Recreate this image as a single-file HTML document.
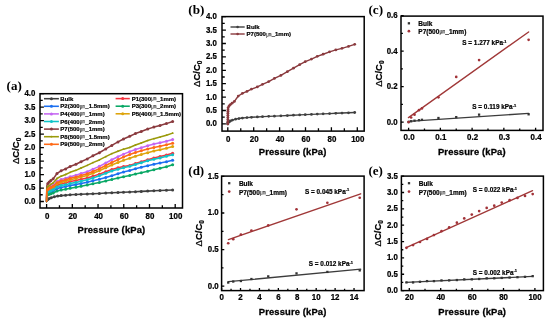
<!DOCTYPE html>
<html lang="en">
<head>
<meta charset="utf-8">
<title>Capacitance change versus pressure</title>
<style>
html,body{margin:0;padding:0;background:#fff;}
body{width:550px;height:323px;overflow:hidden;}
svg{display:block;}
</style>
</head>
<body>
<svg width="550" height="323" viewBox="0 0 550 323">
<rect width="550" height="323" fill="#fff"/>
<polyline points="46.6,201.5 46.66,200.69 46.79,200.02 47.89,199.48 49.17,198.59 51.23,197.67 54.32,196.76 57.66,196.11 61.13,195.62 65.63,195.17 70.13,194.84 75.92,194.49 81.06,194.22 87.24,193.9 92.9,193.68 99.33,193.41 105.76,193.09 111.8,192.74 117.97,192.47 123.5,192.2 129.68,191.93 135.46,191.66 141.25,191.39 147.68,191.12 153.85,190.85 160.03,190.59 166.46,190.32 172.63,190.05" fill="none" stroke="#3f3f3f" stroke-width="1.55" stroke-linejoin="round" stroke-linecap="round"/>
<g fill="#3f3f3f"><circle cx="47.89" cy="199.48" r="1.5"/><circle cx="49.17" cy="198.59" r="1.5"/><circle cx="51.23" cy="197.67" r="1.5"/><circle cx="54.32" cy="196.76" r="1.5"/><circle cx="57.66" cy="196.11" r="1.5"/><circle cx="61.13" cy="195.62" r="1.5"/><circle cx="65.63" cy="195.17" r="1.5"/><circle cx="70.13" cy="194.84" r="1.5"/><circle cx="75.92" cy="194.49" r="1.5"/><circle cx="81.06" cy="194.22" r="1.5"/><circle cx="87.24" cy="193.9" r="1.5"/><circle cx="92.9" cy="193.68" r="1.5"/><circle cx="99.33" cy="193.41" r="1.5"/><circle cx="105.76" cy="193.09" r="1.5"/><circle cx="111.8" cy="192.74" r="1.5"/><circle cx="117.97" cy="192.47" r="1.5"/><circle cx="123.5" cy="192.2" r="1.5"/><circle cx="129.68" cy="191.93" r="1.5"/><circle cx="135.46" cy="191.66" r="1.5"/><circle cx="141.25" cy="191.39" r="1.5"/><circle cx="147.68" cy="191.12" r="1.5"/><circle cx="153.85" cy="190.85" r="1.5"/><circle cx="160.03" cy="190.59" r="1.5"/><circle cx="166.46" cy="190.32" r="1.5"/><circle cx="172.63" cy="190.05" r="1.5"/></g>
<polyline points="46.6,201.5 46.63,200.25 46.65,199 46.68,197.75 46.7,196.5 46.73,195.25 46.77,194.15 46.82,193.22 46.99,191.97 47.89,191.03 49.17,190.25 50.84,189.39 53.16,188.37 57.02,185.24 61.13,183.79 65.63,182.85 70.13,181.61 75.92,180.59 81.06,179.35 87.24,178.03 92.9,176.17 99.33,174.13 105.76,171.67 111.8,169.43 117.97,167.83 123.5,166.53 129.68,165.46 135.46,163.5 141.25,161.72 147.68,159.67 153.85,157.95 160.03,156.57 166.46,154.98 172.63,153.23" fill="none" stroke="#f5333f" stroke-width="1.55" stroke-linejoin="round" stroke-linecap="round"/>
<g fill="#f5333f"><circle cx="47.89" cy="191.03" r="1.5"/><circle cx="49.17" cy="190.25" r="1.5"/><circle cx="50.84" cy="189.39" r="1.5"/><circle cx="53.16" cy="188.37" r="1.5"/><circle cx="57.02" cy="185.24" r="1.5"/><circle cx="61.13" cy="183.79" r="1.5"/><circle cx="65.63" cy="182.85" r="1.5"/><circle cx="70.13" cy="181.61" r="1.5"/><circle cx="75.92" cy="180.59" r="1.5"/><circle cx="81.06" cy="179.35" r="1.5"/><circle cx="87.24" cy="178.03" r="1.5"/><circle cx="92.9" cy="176.17" r="1.5"/><circle cx="99.33" cy="174.13" r="1.5"/><circle cx="105.76" cy="171.67" r="1.5"/><circle cx="111.8" cy="169.43" r="1.5"/><circle cx="117.97" cy="167.83" r="1.5"/><circle cx="123.5" cy="166.53" r="1.5"/><circle cx="129.68" cy="165.46" r="1.5"/><circle cx="135.46" cy="163.5" r="1.5"/><circle cx="141.25" cy="161.72" r="1.5"/><circle cx="147.68" cy="159.67" r="1.5"/><circle cx="153.85" cy="157.95" r="1.5"/><circle cx="160.03" cy="156.57" r="1.5"/><circle cx="166.46" cy="154.98" r="1.5"/><circle cx="172.63" cy="153.23" r="1.5"/></g>
<polyline points="46.6,201.5 46.63,200.51 46.65,199.52 46.68,198.52 46.7,197.53 46.73,196.54 46.77,195.67 46.82,194.93 46.99,193.94 47.89,193.19 49.17,192.57 50.84,191.89 53.16,191.09 57.02,188.61 61.13,187.4 65.63,186.59 70.13,185.53 75.92,184.61 81.06,183.52 87.24,182.32 92.9,180.85 99.33,179.31 105.76,177.45 111.8,175.67 117.97,173.73 123.5,172.04 129.68,170.42 135.46,168.75 141.25,167.31 147.68,165.66 153.85,164.28 160.03,163.11 166.46,161.76 172.63,160.28" fill="none" stroke="#1b6ff0" stroke-width="1.55" stroke-linejoin="round" stroke-linecap="round"/>
<g fill="#1b6ff0"><circle cx="47.89" cy="193.19" r="1.5"/><circle cx="49.17" cy="192.57" r="1.5"/><circle cx="50.84" cy="191.89" r="1.5"/><circle cx="53.16" cy="191.09" r="1.5"/><circle cx="57.02" cy="188.61" r="1.5"/><circle cx="61.13" cy="187.4" r="1.5"/><circle cx="65.63" cy="186.59" r="1.5"/><circle cx="70.13" cy="185.53" r="1.5"/><circle cx="75.92" cy="184.61" r="1.5"/><circle cx="81.06" cy="183.52" r="1.5"/><circle cx="87.24" cy="182.32" r="1.5"/><circle cx="92.9" cy="180.85" r="1.5"/><circle cx="99.33" cy="179.31" r="1.5"/><circle cx="105.76" cy="177.45" r="1.5"/><circle cx="111.8" cy="175.67" r="1.5"/><circle cx="117.97" cy="173.73" r="1.5"/><circle cx="123.5" cy="172.04" r="1.5"/><circle cx="129.68" cy="170.42" r="1.5"/><circle cx="135.46" cy="168.75" r="1.5"/><circle cx="141.25" cy="167.31" r="1.5"/><circle cx="147.68" cy="165.66" r="1.5"/><circle cx="153.85" cy="164.28" r="1.5"/><circle cx="160.03" cy="163.11" r="1.5"/><circle cx="166.46" cy="161.76" r="1.5"/><circle cx="172.63" cy="160.28" r="1.5"/></g>
<polyline points="46.6,201.5 46.63,200.69 46.65,199.88 46.68,199.07 46.7,198.27 46.73,197.46 46.77,196.75 46.82,196.14 46.99,195.34 47.89,194.73 49.17,194.22 50.84,193.67 53.16,193.01 57.02,190.99 61.13,189.92 65.63,189.14 70.13,188.15 75.92,187.22 81.06,186.14 87.24,184.92 92.9,183.68 99.33,182.48 105.76,181 111.8,179.61 117.97,178.05 123.5,176.71 129.68,175.43 135.46,173.95 141.25,172.64 147.68,171.13 153.85,169.82 160.03,168.33 166.46,166.65 172.63,164.84" fill="none" stroke="#0aa866" stroke-width="1.55" stroke-linejoin="round" stroke-linecap="round"/>
<g fill="#0aa866"><circle cx="47.89" cy="194.73" r="1.5"/><circle cx="49.17" cy="194.22" r="1.5"/><circle cx="50.84" cy="193.67" r="1.5"/><circle cx="53.16" cy="193.01" r="1.5"/><circle cx="57.02" cy="190.99" r="1.5"/><circle cx="61.13" cy="189.92" r="1.5"/><circle cx="65.63" cy="189.14" r="1.5"/><circle cx="70.13" cy="188.15" r="1.5"/><circle cx="75.92" cy="187.22" r="1.5"/><circle cx="81.06" cy="186.14" r="1.5"/><circle cx="87.24" cy="184.92" r="1.5"/><circle cx="92.9" cy="183.68" r="1.5"/><circle cx="99.33" cy="182.48" r="1.5"/><circle cx="105.76" cy="181" r="1.5"/><circle cx="111.8" cy="179.61" r="1.5"/><circle cx="117.97" cy="178.05" r="1.5"/><circle cx="123.5" cy="176.71" r="1.5"/><circle cx="129.68" cy="175.43" r="1.5"/><circle cx="135.46" cy="173.95" r="1.5"/><circle cx="141.25" cy="172.64" r="1.5"/><circle cx="147.68" cy="171.13" r="1.5"/><circle cx="153.85" cy="169.82" r="1.5"/><circle cx="160.03" cy="168.33" r="1.5"/><circle cx="166.46" cy="166.65" r="1.5"/><circle cx="172.63" cy="164.84" r="1.5"/></g>
<polyline points="46.6,201.5 46.63,199.96 46.65,198.42 46.68,196.88 46.7,195.33 46.73,193.79 46.77,192.44 46.82,191.29 46.99,189.75 47.89,188.59 49.17,187.63 50.84,186.57 53.16,185.31 57.02,181.46 61.13,179.59 65.63,178.31 70.13,176.66 75.92,175.24 81.06,173.53 87.24,171.67 92.9,169.14 99.33,166.34 105.76,162.97 111.8,159.79 117.97,156.77 123.5,154.15 129.68,151.65 135.46,149.44 141.25,147.66 147.68,145.66 153.85,144.07 160.03,142.72 166.46,141.16 172.63,139.39" fill="none" stroke="#c566f2" stroke-width="1.55" stroke-linejoin="round" stroke-linecap="round"/>
<g fill="#c566f2"><circle cx="47.89" cy="188.59" r="1.5"/><circle cx="49.17" cy="187.63" r="1.5"/><circle cx="50.84" cy="186.57" r="1.5"/><circle cx="53.16" cy="185.31" r="1.5"/><circle cx="57.02" cy="181.46" r="1.5"/><circle cx="61.13" cy="179.59" r="1.5"/><circle cx="65.63" cy="178.31" r="1.5"/><circle cx="70.13" cy="176.66" r="1.5"/><circle cx="75.92" cy="175.24" r="1.5"/><circle cx="81.06" cy="173.53" r="1.5"/><circle cx="87.24" cy="171.67" r="1.5"/><circle cx="92.9" cy="169.14" r="1.5"/><circle cx="99.33" cy="166.34" r="1.5"/><circle cx="105.76" cy="162.97" r="1.5"/><circle cx="111.8" cy="159.79" r="1.5"/><circle cx="117.97" cy="156.77" r="1.5"/><circle cx="123.5" cy="154.15" r="1.5"/><circle cx="129.68" cy="151.65" r="1.5"/><circle cx="135.46" cy="149.44" r="1.5"/><circle cx="141.25" cy="147.66" r="1.5"/><circle cx="147.68" cy="145.66" r="1.5"/><circle cx="153.85" cy="144.07" r="1.5"/><circle cx="160.03" cy="142.72" r="1.5"/><circle cx="166.46" cy="141.16" r="1.5"/><circle cx="172.63" cy="139.39" r="1.5"/></g>
<polyline points="46.6,201.5 46.63,200.14 46.65,198.78 46.68,197.43 46.7,196.07 46.73,194.71 46.77,193.52 46.82,192.5 46.99,191.14 47.89,190.12 49.17,189.28 50.84,188.34 53.16,187.24 57.02,183.84 61.13,182.22 65.63,181.13 70.13,179.71 75.92,178.51 81.06,177.06 87.24,175.49 92.9,173.28 99.33,170.8 105.76,167.82 111.8,165.03 117.97,162.52 123.5,160.37 129.68,158.35 135.46,156.29 141.25,154.58 147.68,152.63 153.85,151.05 160.03,149.71 166.46,148.16 172.63,146.43" fill="none" stroke="#dea40c" stroke-width="1.55" stroke-linejoin="round" stroke-linecap="round"/>
<g fill="#dea40c"><circle cx="47.89" cy="190.12" r="1.5"/><circle cx="49.17" cy="189.28" r="1.5"/><circle cx="50.84" cy="188.34" r="1.5"/><circle cx="53.16" cy="187.24" r="1.5"/><circle cx="57.02" cy="183.84" r="1.5"/><circle cx="61.13" cy="182.22" r="1.5"/><circle cx="65.63" cy="181.13" r="1.5"/><circle cx="70.13" cy="179.71" r="1.5"/><circle cx="75.92" cy="178.51" r="1.5"/><circle cx="81.06" cy="177.06" r="1.5"/><circle cx="87.24" cy="175.49" r="1.5"/><circle cx="92.9" cy="173.28" r="1.5"/><circle cx="99.33" cy="170.8" r="1.5"/><circle cx="105.76" cy="167.82" r="1.5"/><circle cx="111.8" cy="165.03" r="1.5"/><circle cx="117.97" cy="162.52" r="1.5"/><circle cx="123.5" cy="160.37" r="1.5"/><circle cx="129.68" cy="158.35" r="1.5"/><circle cx="135.46" cy="156.29" r="1.5"/><circle cx="141.25" cy="154.58" r="1.5"/><circle cx="147.68" cy="152.63" r="1.5"/><circle cx="153.85" cy="151.05" r="1.5"/><circle cx="160.03" cy="149.71" r="1.5"/><circle cx="166.46" cy="148.16" r="1.5"/><circle cx="172.63" cy="146.43" r="1.5"/></g>
<polyline points="46.6,201.5 46.63,200.38 46.65,199.26 46.68,198.14 46.7,197.02 46.73,195.89 46.77,194.91 46.82,194.07 46.99,192.95 47.89,192.11 49.17,191.41 50.84,190.64 53.16,189.73 57.02,186.93 61.13,185.56 65.63,184.63 70.13,183.43 75.92,182.38 81.06,181.13 87.24,179.77 92.9,177.9 99.33,175.82 105.76,173.32 111.8,171.02 117.97,169.19 123.5,167.65 129.68,166.27 135.46,164.39 141.25,162.72 147.68,160.82 153.85,159.22 160.03,157.88 166.46,156.36 172.63,154.68" fill="none" stroke="#10c4c8" stroke-width="1.55" stroke-linejoin="round" stroke-linecap="round"/>
<g fill="#10c4c8"><circle cx="47.89" cy="192.11" r="1.5"/><circle cx="49.17" cy="191.41" r="1.5"/><circle cx="50.84" cy="190.64" r="1.5"/><circle cx="53.16" cy="189.73" r="1.5"/><circle cx="57.02" cy="186.93" r="1.5"/><circle cx="61.13" cy="185.56" r="1.5"/><circle cx="65.63" cy="184.63" r="1.5"/><circle cx="70.13" cy="183.43" r="1.5"/><circle cx="75.92" cy="182.38" r="1.5"/><circle cx="81.06" cy="181.13" r="1.5"/><circle cx="87.24" cy="179.77" r="1.5"/><circle cx="92.9" cy="177.9" r="1.5"/><circle cx="99.33" cy="175.82" r="1.5"/><circle cx="105.76" cy="173.32" r="1.5"/><circle cx="111.8" cy="171.02" r="1.5"/><circle cx="117.97" cy="169.19" r="1.5"/><circle cx="123.5" cy="167.65" r="1.5"/><circle cx="129.68" cy="166.27" r="1.5"/><circle cx="135.46" cy="164.39" r="1.5"/><circle cx="141.25" cy="162.72" r="1.5"/><circle cx="147.68" cy="160.82" r="1.5"/><circle cx="153.85" cy="159.22" r="1.5"/><circle cx="160.03" cy="157.88" r="1.5"/><circle cx="166.46" cy="156.36" r="1.5"/><circle cx="172.63" cy="154.68" r="1.5"/></g>
<polyline points="46.6,201.5 46.63,199.34 46.65,197.19 46.68,195.03 46.7,192.88 46.73,190.72 46.77,188.83 46.82,187.22 46.99,185.06 47.89,183.44 49.17,182.1 50.84,180.61 53.16,178.86 57.02,173.47 61.13,170.78 65.63,168.89 70.13,166.47 75.92,164.31 81.06,161.75 87.24,158.92 92.9,155.82 99.33,152.72 105.76,148.95 111.8,145.44 117.97,141.94 123.5,138.98 129.68,136.28 135.46,133.59 141.25,131.43 147.68,129 153.85,127.12 160.03,125.5 166.46,123.61 172.63,121.46" fill="none" stroke="#8a3a3e" stroke-width="1.55" stroke-linejoin="round" stroke-linecap="round"/>
<g fill="#8a3a3e"><circle cx="47.89" cy="183.44" r="1.5"/><circle cx="49.17" cy="182.1" r="1.5"/><circle cx="50.84" cy="180.61" r="1.5"/><circle cx="53.16" cy="178.86" r="1.5"/><circle cx="57.02" cy="173.47" r="1.5"/><circle cx="61.13" cy="170.78" r="1.5"/><circle cx="65.63" cy="168.89" r="1.5"/><circle cx="70.13" cy="166.47" r="1.5"/><circle cx="75.92" cy="164.31" r="1.5"/><circle cx="81.06" cy="161.75" r="1.5"/><circle cx="87.24" cy="158.92" r="1.5"/><circle cx="92.9" cy="155.82" r="1.5"/><circle cx="99.33" cy="152.72" r="1.5"/><circle cx="105.76" cy="148.95" r="1.5"/><circle cx="111.8" cy="145.44" r="1.5"/><circle cx="117.97" cy="141.94" r="1.5"/><circle cx="123.5" cy="138.98" r="1.5"/><circle cx="129.68" cy="136.28" r="1.5"/><circle cx="135.46" cy="133.59" r="1.5"/><circle cx="141.25" cy="131.43" r="1.5"/><circle cx="147.68" cy="129" r="1.5"/><circle cx="153.85" cy="127.12" r="1.5"/><circle cx="160.03" cy="125.5" r="1.5"/><circle cx="166.46" cy="123.61" r="1.5"/><circle cx="172.63" cy="121.46" r="1.5"/></g>
<polyline points="46.6,201.5 46.63,199.73 46.65,197.96 46.68,196.2 46.7,194.43 46.73,192.66 46.77,191.11 46.82,189.79 46.99,188.02 47.89,186.69 49.17,185.59 50.84,184.37 53.16,182.94 57.02,178.52 61.13,176.2 65.63,174.5 70.13,172.34 75.92,170.34 81.06,168 87.24,165.36 92.9,162.63 99.33,159.92 105.76,156.63 111.8,153.64 117.97,151.17 123.5,149.14 129.68,147.45 135.46,145 141.25,142.91 147.68,140.54 153.85,138.63 160.03,137.04 166.46,135.21 172.63,133.14" fill="none" stroke="#9a9a0a" stroke-width="1.55" stroke-linejoin="round" stroke-linecap="round"/>
<g fill="#9a9a0a"><circle cx="47.89" cy="186.69" r="0.9"/><circle cx="49.17" cy="185.59" r="0.9"/><circle cx="50.84" cy="184.37" r="0.9"/><circle cx="53.16" cy="182.94" r="0.9"/><circle cx="57.02" cy="178.52" r="0.9"/><circle cx="61.13" cy="176.2" r="0.9"/><circle cx="65.63" cy="174.5" r="0.9"/><circle cx="70.13" cy="172.34" r="0.9"/><circle cx="75.92" cy="170.34" r="0.9"/><circle cx="81.06" cy="168" r="0.9"/><circle cx="87.24" cy="165.36" r="0.9"/><circle cx="92.9" cy="162.63" r="0.9"/><circle cx="99.33" cy="159.92" r="0.9"/><circle cx="105.76" cy="156.63" r="0.9"/><circle cx="111.8" cy="153.64" r="0.9"/><circle cx="117.97" cy="151.17" r="0.9"/><circle cx="123.5" cy="149.14" r="0.9"/><circle cx="129.68" cy="147.45" r="0.9"/><circle cx="135.46" cy="145" r="0.9"/><circle cx="141.25" cy="142.91" r="0.9"/><circle cx="147.68" cy="140.54" r="0.9"/><circle cx="153.85" cy="138.63" r="0.9"/><circle cx="160.03" cy="137.04" r="0.9"/><circle cx="166.46" cy="135.21" r="0.9"/><circle cx="172.63" cy="133.14" r="0.9"/></g>
<polyline points="46.6,201.5 46.63,200.06 46.65,198.61 46.68,197.17 46.7,195.72 46.73,194.28 46.77,193.01 46.82,191.93 46.99,190.49 47.89,189.4 49.17,188.5 50.84,187.51 53.16,186.33 57.02,182.72 61.13,180.99 65.63,179.82 70.13,178.31 75.92,177.02 81.06,175.47 87.24,173.79 92.9,171.42 99.33,168.76 105.76,165.56 111.8,162.53 117.97,159.6 123.5,157.05 129.68,154.59 135.46,152.51 141.25,150.85 147.68,148.97 153.85,147.49 160.03,146.25 166.46,144.8 172.63,143.15" fill="none" stroke="#ff6a17" stroke-width="1.55" stroke-linejoin="round" stroke-linecap="round"/>
<g fill="#ff6a17"><circle cx="47.89" cy="189.4" r="1.5"/><circle cx="49.17" cy="188.5" r="1.5"/><circle cx="50.84" cy="187.51" r="1.5"/><circle cx="53.16" cy="186.33" r="1.5"/><circle cx="57.02" cy="182.72" r="1.5"/><circle cx="61.13" cy="180.99" r="1.5"/><circle cx="65.63" cy="179.82" r="1.5"/><circle cx="70.13" cy="178.31" r="1.5"/><circle cx="75.92" cy="177.02" r="1.5"/><circle cx="81.06" cy="175.47" r="1.5"/><circle cx="87.24" cy="173.79" r="1.5"/><circle cx="92.9" cy="171.42" r="1.5"/><circle cx="99.33" cy="168.76" r="1.5"/><circle cx="105.76" cy="165.56" r="1.5"/><circle cx="111.8" cy="162.53" r="1.5"/><circle cx="117.97" cy="159.6" r="1.5"/><circle cx="123.5" cy="157.05" r="1.5"/><circle cx="129.68" cy="154.59" r="1.5"/><circle cx="135.46" cy="152.51" r="1.5"/><circle cx="141.25" cy="150.85" r="1.5"/><circle cx="147.68" cy="148.97" r="1.5"/><circle cx="153.85" cy="147.49" r="1.5"/><circle cx="160.03" cy="146.25" r="1.5"/><circle cx="166.46" cy="144.8" r="1.5"/><circle cx="172.63" cy="143.15" r="1.5"/></g>
<rect x="40" y="93.7" width="142.5" height="114.3" fill="none" stroke="#000" stroke-width="1.5"/>
<path d="M46.6 208v-3.9M72.32 208v-3.9M98.04 208v-3.9M123.76 208v-3.9M149.48 208v-3.9M175.2 208v-3.9M59.46 208v-2.75M85.18 208v-2.75M110.9 208v-2.75M136.62 208v-2.75M162.34 208v-2.75" stroke="#000" stroke-width="1.3" fill="none"/>
<g font-family='"Liberation Sans", "Noto Sans CJK KR", "NanumGothic", sans-serif' font-weight="700" font-size="8.8" text-anchor="middle" fill="#000" stroke="#000" stroke-width="0.25">
<text transform="translate(47.1 219.2) scale(0.9 1)">0</text>
<text transform="translate(72.82 219.2) scale(0.9 1)">20</text>
<text transform="translate(98.54 219.2) scale(0.9 1)">40</text>
<text transform="translate(124.26 219.2) scale(0.9 1)">60</text>
<text transform="translate(149.98 219.2) scale(0.9 1)">80</text>
<text transform="translate(175.7 219.2) scale(0.9 1)">100</text>
</g>
<path d="M40 201.5h3.9M40 188.03h3.9M40 174.55h3.9M40 161.07h3.9M40 147.6h3.9M40 134.12h3.9M40 120.65h3.9M40 107.17h3.9M40 93.7h3.9M40 194.76h2.75M40 181.29h2.75M40 167.81h2.75M40 154.34h2.75M40 140.86h2.75M40 127.39h2.75M40 113.91h2.75M40 100.44h2.75" stroke="#000" stroke-width="1.3" fill="none"/>
<g font-family='"Liberation Sans", "Noto Sans CJK KR", "NanumGothic", sans-serif' font-weight="700" font-size="8.9" text-anchor="end" fill="#000" stroke="#000" stroke-width="0.25">
<text transform="translate(35.4 203.95) scale(0.88 1)">0.0</text>
<text transform="translate(35.4 190.47) scale(0.88 1)">0.5</text>
<text transform="translate(35.4 177) scale(0.88 1)">1.0</text>
<text transform="translate(35.4 163.52) scale(0.88 1)">1.5</text>
<text transform="translate(35.4 150.05) scale(0.88 1)">2.0</text>
<text transform="translate(35.4 136.57) scale(0.88 1)">2.5</text>
<text transform="translate(35.4 123.1) scale(0.88 1)">3.0</text>
<text transform="translate(35.4 109.62) scale(0.88 1)">3.5</text>
<text transform="translate(35.4 96.15) scale(0.88 1)">4.0</text>
</g>
<text transform="translate(111.4 232.6) scale(1.0 1)" font-family='"Liberation Sans", "Noto Sans CJK KR", "NanumGothic", sans-serif' font-weight="700" font-size="9.4" text-anchor="middle" fill="#000" stroke="#000" stroke-width="0.3" letter-spacing="0.15">Pressure (kPa)</text>
<text transform="translate(18.61 150.9) rotate(-90) scale(0.97 1)" font-family='"Liberation Sans", "Noto Sans CJK KR", "NanumGothic", sans-serif' font-weight="700" font-size="9.8" text-anchor="middle" fill="#000" stroke="#000" stroke-width="0.2"><tspan font-weight="400">Δ</tspan>C/C<tspan font-size="6.66" dy="2">0</tspan></text>
<text x="6.6" y="90.4" font-family='"Liberation Serif", "Noto Serif CJK SC", serif' font-weight="700" font-size="13" fill="#000">(a)</text>
<path d="M44 98.7H58.9" stroke="#3f3f3f" stroke-width="1.55"/>
<circle cx="51.45" cy="98.7" r="1.5" fill="#3f3f3f"/>
<text x="60.3" y="100.85" font-family='"Liberation Sans", "Noto Sans CJK KR", "NanumGothic", sans-serif' font-weight="700" font-size="6.0" text-anchor="start" fill="#000" stroke="#000" stroke-width="0.2">Bulk</text>
<path d="M44 106.3H58.9" stroke="#1b6ff0" stroke-width="1.55"/>
<circle cx="51.45" cy="106.3" r="1.5" fill="#1b6ff0"/>
<text x="60.3" y="108.45" font-family='"Liberation Sans", "Noto Sans CJK KR", "NanumGothic", sans-serif' font-weight="700" font-size="6.0" text-anchor="start" fill="#000" stroke="#000" stroke-width="0.2">P2(300<tspan font-weight="400" stroke="none" font-size="0.86em" dx="0.2" dy="-0.6">㎛</tspan><tspan dx="0.3" dy="0.6">_1.5mm)</tspan></text>
<path d="M44 113.9H58.9" stroke="#c566f2" stroke-width="1.55"/>
<circle cx="51.45" cy="113.9" r="1.5" fill="#c566f2"/>
<text x="60.3" y="116.05" font-family='"Liberation Sans", "Noto Sans CJK KR", "NanumGothic", sans-serif' font-weight="700" font-size="6.0" text-anchor="start" fill="#000" stroke="#000" stroke-width="0.2">P4(400<tspan font-weight="400" stroke="none" font-size="0.86em" dx="0.2" dy="-0.6">㎛</tspan><tspan dx="0.3" dy="0.6">_1mm)</tspan></text>
<path d="M44 121.5H58.9" stroke="#10c4c8" stroke-width="1.55"/>
<circle cx="51.45" cy="121.5" r="1.5" fill="#10c4c8"/>
<text x="60.3" y="123.65" font-family='"Liberation Sans", "Noto Sans CJK KR", "NanumGothic", sans-serif' font-weight="700" font-size="6.0" text-anchor="start" fill="#000" stroke="#000" stroke-width="0.2">P6(400<tspan font-weight="400" stroke="none" font-size="0.86em" dx="0.2" dy="-0.6">㎛</tspan><tspan dx="0.3" dy="0.6">_2mm)</tspan></text>
<path d="M44 129.1H58.9" stroke="#8a3a3e" stroke-width="1.55"/>
<circle cx="51.45" cy="129.1" r="1.5" fill="#8a3a3e"/>
<text x="60.3" y="131.25" font-family='"Liberation Sans", "Noto Sans CJK KR", "NanumGothic", sans-serif' font-weight="700" font-size="6.0" text-anchor="start" fill="#000" stroke="#000" stroke-width="0.2">P7(500<tspan font-weight="400" stroke="none" font-size="0.86em" dx="0.2" dy="-0.6">㎛</tspan><tspan dx="0.3" dy="0.6">_1mm)</tspan></text>
<path d="M44 136.7H58.9" stroke="#9a9a0a" stroke-width="1.55"/>
<circle cx="51.45" cy="136.7" r="0.9" fill="#9a9a0a"/>
<text x="60.3" y="138.85" font-family='"Liberation Sans", "Noto Sans CJK KR", "NanumGothic", sans-serif' font-weight="700" font-size="6.0" text-anchor="start" fill="#000" stroke="#000" stroke-width="0.2">P8(500<tspan font-weight="400" stroke="none" font-size="0.86em" dx="0.2" dy="-0.6">㎛</tspan><tspan dx="0.3" dy="0.6">_1.5mm)</tspan></text>
<path d="M44 144.3H58.9" stroke="#ff6a17" stroke-width="1.55"/>
<circle cx="51.45" cy="144.3" r="1.5" fill="#ff6a17"/>
<text x="60.3" y="146.45" font-family='"Liberation Sans", "Noto Sans CJK KR", "NanumGothic", sans-serif' font-weight="700" font-size="6.0" text-anchor="start" fill="#000" stroke="#000" stroke-width="0.2">P9(500<tspan font-weight="400" stroke="none" font-size="0.86em" dx="0.2" dy="-0.6">㎛</tspan><tspan dx="0.3" dy="0.6">_2mm)</tspan></text>
<path d="M115.6 98.6H129.8" stroke="#f5333f" stroke-width="1.55"/>
<circle cx="122.7" cy="98.6" r="1.5" fill="#f5333f"/>
<text x="131.7" y="100.75" font-family='"Liberation Sans", "Noto Sans CJK KR", "NanumGothic", sans-serif' font-weight="700" font-size="6.0" text-anchor="start" fill="#000" stroke="#000" stroke-width="0.2">P1(300<tspan font-weight="400" stroke="none" font-size="0.86em" dx="0.2" dy="-0.6">㎛</tspan><tspan dx="0.3" dy="0.6">_1mm)</tspan></text>
<path d="M115.6 106.2H129.8" stroke="#0aa866" stroke-width="1.55"/>
<circle cx="122.7" cy="106.2" r="1.5" fill="#0aa866"/>
<text x="131.7" y="108.35" font-family='"Liberation Sans", "Noto Sans CJK KR", "NanumGothic", sans-serif' font-weight="700" font-size="6.0" text-anchor="start" fill="#000" stroke="#000" stroke-width="0.2">P3(300<tspan font-weight="400" stroke="none" font-size="0.86em" dx="0.2" dy="-0.6">㎛</tspan><tspan dx="0.3" dy="0.6">_2mm)</tspan></text>
<path d="M115.6 113.8H129.8" stroke="#dea40c" stroke-width="1.55"/>
<circle cx="122.7" cy="113.8" r="1.5" fill="#dea40c"/>
<text x="131.7" y="115.95" font-family='"Liberation Sans", "Noto Sans CJK KR", "NanumGothic", sans-serif' font-weight="700" font-size="6.0" text-anchor="start" fill="#000" stroke="#000" stroke-width="0.2">P5(400<tspan font-weight="400" stroke="none" font-size="0.86em" dx="0.2" dy="-0.6">㎛</tspan><tspan dx="0.3" dy="0.6">_1.5mm)</tspan></text>
<polyline points="227.8,123.9 227.86,123.1 227.99,122.43 229.09,121.89 230.39,121.01 232.46,120.09 235.57,119.18 238.94,118.54 242.43,118.06 246.97,117.6 251.5,117.28 257.33,116.93 262.51,116.66 268.72,116.34 274.42,116.13 280.89,115.86 287.37,115.54 293.46,115.19 299.67,114.92 305.24,114.65 311.46,114.39 317.28,114.12 323.11,113.85 329.59,113.58 335.8,113.31 342.02,113.05 348.49,112.78 354.71,112.51" fill="none" stroke="#3f3f3f" stroke-width="1.4" stroke-linejoin="round" stroke-linecap="round"/>
<g fill="#3f3f3f"><circle cx="227.8" cy="123.9" r="1.4"/><circle cx="227.86" cy="123.1" r="1.4"/><circle cx="227.99" cy="122.43" r="1.4"/><circle cx="229.09" cy="121.89" r="1.4"/><circle cx="230.39" cy="121.01" r="1.4"/><circle cx="232.46" cy="120.09" r="1.4"/><circle cx="235.57" cy="119.18" r="1.4"/><circle cx="238.94" cy="118.54" r="1.4"/><circle cx="242.43" cy="118.06" r="1.4"/><circle cx="246.97" cy="117.6" r="1.4"/><circle cx="251.5" cy="117.28" r="1.4"/><circle cx="257.33" cy="116.93" r="1.4"/><circle cx="262.51" cy="116.66" r="1.4"/><circle cx="268.72" cy="116.34" r="1.4"/><circle cx="274.42" cy="116.13" r="1.4"/><circle cx="280.89" cy="115.86" r="1.4"/><circle cx="287.37" cy="115.54" r="1.4"/><circle cx="293.46" cy="115.19" r="1.4"/><circle cx="299.67" cy="114.92" r="1.4"/><circle cx="305.24" cy="114.65" r="1.4"/><circle cx="311.46" cy="114.39" r="1.4"/><circle cx="317.28" cy="114.12" r="1.4"/><circle cx="323.11" cy="113.85" r="1.4"/><circle cx="329.59" cy="113.58" r="1.4"/><circle cx="335.8" cy="113.31" r="1.4"/><circle cx="342.02" cy="113.05" r="1.4"/><circle cx="348.49" cy="112.78" r="1.4"/><circle cx="354.71" cy="112.51" r="1.4"/></g>
<polyline points="227.8,123.9 227.83,121.76 227.85,119.61 227.88,117.47 227.9,115.32 227.93,113.18 227.97,111.3 228.02,109.7 228.19,107.55 229.09,105.94 230.39,104.6 232.07,103.13 234.4,101.39 238.29,96.03 242.43,93.35 246.97,91.47 251.5,89.06 257.33,86.92 262.51,84.37 268.72,81.56 274.42,78.47 280.89,75.39 287.37,71.64 293.46,68.16 299.67,64.67 305.24,61.72 311.46,59.04 317.28,56.36 323.11,54.22 329.59,51.81 335.8,49.93 342.02,48.32 348.49,46.45 354.71,44.3" fill="none" stroke="#8a3a3e" stroke-width="1.4" stroke-linejoin="round" stroke-linecap="round"/>
<g fill="#8a3a3e"><circle cx="227.8" cy="123.9" r="1.4"/><circle cx="227.83" cy="121.76" r="1.4"/><circle cx="227.85" cy="119.61" r="1.4"/><circle cx="227.88" cy="117.47" r="1.4"/><circle cx="227.9" cy="115.32" r="1.4"/><circle cx="227.93" cy="113.18" r="1.4"/><circle cx="227.97" cy="111.3" r="1.4"/><circle cx="228.02" cy="109.7" r="1.4"/><circle cx="228.19" cy="107.55" r="1.4"/><circle cx="229.09" cy="105.94" r="1.4"/><circle cx="230.39" cy="104.6" r="1.4"/><circle cx="232.07" cy="103.13" r="1.4"/><circle cx="234.4" cy="101.39" r="1.4"/><circle cx="238.29" cy="96.03" r="1.4"/><circle cx="242.43" cy="93.35" r="1.4"/><circle cx="246.97" cy="91.47" r="1.4"/><circle cx="251.5" cy="89.06" r="1.4"/><circle cx="257.33" cy="86.92" r="1.4"/><circle cx="262.51" cy="84.37" r="1.4"/><circle cx="268.72" cy="81.56" r="1.4"/><circle cx="274.42" cy="78.47" r="1.4"/><circle cx="280.89" cy="75.39" r="1.4"/><circle cx="287.37" cy="71.64" r="1.4"/><circle cx="293.46" cy="68.16" r="1.4"/><circle cx="299.67" cy="64.67" r="1.4"/><circle cx="305.24" cy="61.72" r="1.4"/><circle cx="311.46" cy="59.04" r="1.4"/><circle cx="317.28" cy="56.36" r="1.4"/><circle cx="323.11" cy="54.22" r="1.4"/><circle cx="329.59" cy="51.81" r="1.4"/><circle cx="335.8" cy="49.93" r="1.4"/><circle cx="342.02" cy="48.32" r="1.4"/><circle cx="348.49" cy="46.45" r="1.4"/><circle cx="354.71" cy="44.3" r="1.4"/></g>
<rect x="222" y="16.6" width="142.2" height="114.5" fill="none" stroke="#000" stroke-width="1.5"/>
<path d="M227.8 131.1v-3.9M253.7 131.1v-3.9M279.6 131.1v-3.9M305.5 131.1v-3.9M331.4 131.1v-3.9M357.3 131.1v-3.9M240.75 131.1v-2.75M266.65 131.1v-2.75M292.55 131.1v-2.75M318.45 131.1v-2.75M344.35 131.1v-2.75" stroke="#000" stroke-width="1.3" fill="none"/>
<g font-family='"Liberation Sans", "Noto Sans CJK KR", "NanumGothic", sans-serif' font-weight="700" font-size="8.8" text-anchor="middle" fill="#000" stroke="#000" stroke-width="0.25">
<text transform="translate(228.3 142) scale(0.9 1)">0</text>
<text transform="translate(254.2 142) scale(0.9 1)">20</text>
<text transform="translate(280.1 142) scale(0.9 1)">40</text>
<text transform="translate(306 142) scale(0.9 1)">60</text>
<text transform="translate(331.9 142) scale(0.9 1)">80</text>
<text transform="translate(357.8 142) scale(0.9 1)">100</text>
</g>
<path d="M222 123.9h3.9M222 110.5h3.9M222 97.1h3.9M222 83.7h3.9M222 70.3h3.9M222 56.9h3.9M222 43.5h3.9M222 30.1h3.9M222 16.7h3.9M222 117.2h2.75M222 103.8h2.75M222 90.4h2.75M222 77h2.75M222 63.6h2.75M222 50.2h2.75M222 36.8h2.75M222 23.4h2.75" stroke="#000" stroke-width="1.3" fill="none"/>
<g font-family='"Liberation Sans", "Noto Sans CJK KR", "NanumGothic", sans-serif' font-weight="700" font-size="8.9" text-anchor="end" fill="#000" stroke="#000" stroke-width="0.25">
<text transform="translate(216.8 126.35) scale(0.88 1)">0.0</text>
<text transform="translate(216.8 112.95) scale(0.88 1)">0.5</text>
<text transform="translate(216.8 99.55) scale(0.88 1)">1.0</text>
<text transform="translate(216.8 86.15) scale(0.88 1)">1.5</text>
<text transform="translate(216.8 72.75) scale(0.88 1)">2.0</text>
<text transform="translate(216.8 59.35) scale(0.88 1)">2.5</text>
<text transform="translate(216.8 45.95) scale(0.88 1)">3.0</text>
<text transform="translate(216.8 32.55) scale(0.88 1)">3.5</text>
<text transform="translate(216.8 19.15) scale(0.88 1)">4.0</text>
</g>
<text transform="translate(292.6 154.8) scale(1.0 1)" font-family='"Liberation Sans", "Noto Sans CJK KR", "NanumGothic", sans-serif' font-weight="700" font-size="9.4" text-anchor="middle" fill="#000" stroke="#000" stroke-width="0.3" letter-spacing="0.15">Pressure (kPa)</text>
<text transform="translate(199.71 73.8) rotate(-90) scale(0.97 1)" font-family='"Liberation Sans", "Noto Sans CJK KR", "NanumGothic", sans-serif' font-weight="700" font-size="9.8" text-anchor="middle" fill="#000" stroke="#000" stroke-width="0.2"><tspan font-weight="400">Δ</tspan>C/C<tspan font-size="6.66" dy="2">0</tspan></text>
<text x="188.3" y="14.2" font-family='"Liberation Serif", "Noto Serif CJK SC", serif' font-weight="700" font-size="13.2" fill="#000">(b)</text>
<path d="M230.5 27H244.7" stroke="#3f3f3f" stroke-width="1.4"/>
<circle cx="237.6" cy="27" r="1.3" fill="#3f3f3f"/>
<text x="246.6" y="29.1" font-family='"Liberation Sans", "Noto Sans CJK KR", "NanumGothic", sans-serif' font-weight="700" font-size="6.0" text-anchor="start" fill="#000" stroke="#000" stroke-width="0.2">Bulk</text>
<path d="M230.5 34H244.7" stroke="#8a3a3e" stroke-width="1.4"/>
<circle cx="237.6" cy="34" r="1.3" fill="#8a3a3e"/>
<text x="246.6" y="36.1" font-family='"Liberation Sans", "Noto Sans CJK KR", "NanumGothic", sans-serif' font-weight="700" font-size="6.0" text-anchor="start" fill="#000" stroke="#000" stroke-width="0.2">P7(500<tspan font-weight="400" stroke="none" font-size="0.86em" dx="0.2" dy="-0.6">㎛</tspan><tspan dx="0.3" dy="0.6">_1mm)</tspan></text>
<polyline points="408.44,117.6 528.62,31.93" fill="none" stroke="#a03838" stroke-width="1.35" stroke-linejoin="round" stroke-linecap="round"/>
<polyline points="408.44,121.32 528.62,113.33" fill="none" stroke="#3c3c3c" stroke-width="1.35" stroke-linejoin="round" stroke-linecap="round"/>
<g fill="#333"><rect x="407.45" y="120.86" width="2.3" height="2.3"/><rect x="409.99" y="120.15" width="2.3" height="2.3"/><rect x="413.36" y="119.53" width="2.3" height="2.3"/><rect x="417.83" y="119.05" width="2.3" height="2.3"/><rect x="420.79" y="118.65" width="2.3" height="2.3"/><rect x="437.3" y="116.87" width="2.3" height="2.3"/><rect x="455.08" y="115.99" width="2.3" height="2.3"/><rect x="477.94" y="113.51" width="2.3" height="2.3"/><rect x="527.47" y="113.15" width="2.3" height="2.3"/></g>
<g fill="#a23238"><circle cx="408.6" cy="122.1" r="1.35"/><circle cx="411.14" cy="117.49" r="1.35"/><circle cx="414.51" cy="114.66" r="1.35"/><circle cx="418.98" cy="110.22" r="1.35"/><circle cx="421.94" cy="108.45" r="1.35"/><circle cx="438.45" cy="97.28" r="1.35"/><circle cx="456.23" cy="76.9" r="1.35"/><circle cx="479.09" cy="60.06" r="1.35"/><circle cx="528.62" cy="39.86" r="1.35"/></g>
<rect x="401" y="16.1" width="142" height="114.3" fill="none" stroke="#000" stroke-width="1.5"/>
<path d="M408.6 130.4v-2.7M440.35 130.4v-2.7M472.1 130.4v-2.7M503.85 130.4v-2.7M535.6 130.4v-2.7M424.48 130.4v-1.9M456.23 130.4v-1.9M487.98 130.4v-1.9M519.73 130.4v-1.9" stroke="#000" stroke-width="1.3" fill="none"/>
<g font-family='"Liberation Sans", "Noto Sans CJK KR", "NanumGothic", sans-serif' font-weight="700" font-size="8.8" text-anchor="middle" fill="#000" stroke="#000" stroke-width="0.25">
<text transform="translate(409.1 140.1) scale(0.9 1)">0.0</text>
<text transform="translate(440.85 140.1) scale(0.9 1)">0.1</text>
<text transform="translate(472.6 140.1) scale(0.9 1)">0.2</text>
<text transform="translate(504.35 140.1) scale(0.9 1)">0.3</text>
<text transform="translate(536.1 140.1) scale(0.9 1)">0.4</text>
</g>
<path d="M401 122.1h2.7M401 86.65h2.7M401 51.2h2.7M401 15.75h2.7M401 104.38h1.9M401 68.92h1.9M401 33.47h1.9" stroke="#000" stroke-width="1.3" fill="none"/>
<g font-family='"Liberation Sans", "Noto Sans CJK KR", "NanumGothic", sans-serif' font-weight="700" font-size="8.9" text-anchor="end" fill="#000" stroke="#000" stroke-width="0.25">
<text transform="translate(397.6 124.55) scale(0.88 1)">0.0</text>
<text transform="translate(397.6 89.1) scale(0.88 1)">0.2</text>
<text transform="translate(397.6 53.65) scale(0.88 1)">0.4</text>
<text transform="translate(397.6 18.2) scale(0.88 1)">0.6</text>
</g>
<text transform="translate(471.8 155.4) scale(1.0 1)" font-family='"Liberation Sans", "Noto Sans CJK KR", "NanumGothic", sans-serif' font-weight="700" font-size="9.4" text-anchor="middle" fill="#000" stroke="#000" stroke-width="0.3" letter-spacing="0.15">Pressure (kPa)</text>
<text transform="translate(381.81 73.6) rotate(-90) scale(0.97 1)" font-family='"Liberation Sans", "Noto Sans CJK KR", "NanumGothic", sans-serif' font-weight="700" font-size="9.8" text-anchor="middle" fill="#000" stroke="#000" stroke-width="0.2"><tspan font-weight="400">Δ</tspan>C/C<tspan font-size="6.66" dy="2">0</tspan></text>
<text x="368.4" y="14" font-family='"Liberation Serif", "Noto Serif CJK SC", serif' font-weight="700" font-size="13.2" fill="#000">(c)</text>
<rect x="407.75" y="22.15" width="2.3" height="2.3" fill="#333"/>
<circle cx="408.9" cy="31.2" r="1.35" fill="#a23238"/>
<text x="418.3" y="25.6" font-family='"Liberation Sans", "Noto Sans CJK KR", "NanumGothic", sans-serif' font-weight="700" font-size="6.5" text-anchor="start" fill="#000" stroke="#000" stroke-width="0.2">Bulk</text>
<text x="418.3" y="33.5" font-family='"Liberation Sans", "Noto Sans CJK KR", "NanumGothic", sans-serif' font-weight="700" font-size="6.5" text-anchor="start" fill="#000" stroke="#000" stroke-width="0.2">P7(500<tspan font-weight="400" stroke="none" font-size="0.86em" dx="0.2" dy="-0.6">㎛</tspan><tspan dx="0.3" dy="0.6">_1mm)</tspan></text>
<text x="462.3" y="45.1" font-family='"Liberation Sans", "Noto Sans CJK KR", "NanumGothic", sans-serif' font-weight="700" font-size="6.4" text-anchor="start" fill="#000" stroke="#000" stroke-width="0.2">S = 1.277 kPa<tspan font-size="3.97" dy="-2.2">-1</tspan></text>
<text x="472.3" y="109" font-family='"Liberation Sans", "Noto Sans CJK KR", "NanumGothic", sans-serif' font-weight="700" font-size="6.4" text-anchor="start" fill="#000" stroke="#000" stroke-width="0.2">S = 0.119 kPa<tspan font-size="3.97" dy="-2.2">-1</tspan></text>
<polyline points="228.41,239.57 360.66,193.8" fill="none" stroke="#a03838" stroke-width="1.35" stroke-linejoin="round" stroke-linecap="round"/>
<polyline points="228.41,281.66 360.66,269.18" fill="none" stroke="#3c3c3c" stroke-width="1.35" stroke-linejoin="round" stroke-linecap="round"/>
<g fill="#333"><rect x="227.07" y="281.39" width="2.3" height="2.3"/><rect x="232.09" y="280.37" width="2.3" height="2.3"/><rect x="239.75" y="279.85" width="2.3" height="2.3"/><rect x="250.25" y="277.88" width="2.3" height="2.3"/><rect x="267.09" y="275.24" width="2.3" height="2.3"/><rect x="295.37" y="272.24" width="2.3" height="2.3"/><rect x="326.21" y="270.78" width="2.3" height="2.3"/><rect x="358.57" y="269.24" width="2.3" height="2.3"/></g>
<g fill="#a23238"><circle cx="228.22" cy="243.23" r="1.35"/><circle cx="233.24" cy="239.13" r="1.35"/><circle cx="240.9" cy="234.59" r="1.35"/><circle cx="251.4" cy="230.57" r="1.35"/><circle cx="268.24" cy="225.44" r="1.35"/><circle cx="296.52" cy="209.34" r="1.35"/><circle cx="327.36" cy="202.75" r="1.35"/><circle cx="359.72" cy="197.77" r="1.35"/></g>
<rect x="221.6" y="176.1" width="142.5" height="114.5" fill="none" stroke="#000" stroke-width="1.5"/>
<path d="M221.6 290.6v-2.7M240.52 290.6v-2.7M259.44 290.6v-2.7M278.36 290.6v-2.7M297.28 290.6v-2.7M316.2 290.6v-2.7M335.12 290.6v-2.7M354.04 290.6v-2.7M231.06 290.6v-1.9M249.98 290.6v-1.9M268.9 290.6v-1.9M287.82 290.6v-1.9M306.74 290.6v-1.9M325.66 290.6v-1.9M344.58 290.6v-1.9" stroke="#000" stroke-width="1.3" fill="none"/>
<g font-family='"Liberation Sans", "Noto Sans CJK KR", "NanumGothic", sans-serif' font-weight="700" font-size="8.8" text-anchor="middle" fill="#000" stroke="#000" stroke-width="0.25">
<text transform="translate(221.6 299.8) scale(0.9 1)">0</text>
<text transform="translate(240.52 299.8) scale(0.9 1)">2</text>
<text transform="translate(259.44 299.8) scale(0.9 1)">4</text>
<text transform="translate(278.36 299.8) scale(0.9 1)">6</text>
<text transform="translate(297.28 299.8) scale(0.9 1)">8</text>
<text transform="translate(316.2 299.8) scale(0.9 1)">10</text>
<text transform="translate(335.12 299.8) scale(0.9 1)">12</text>
<text transform="translate(354.04 299.8) scale(0.9 1)">14</text>
</g>
<path d="M221.6 286.2h2.7M221.6 249.6h2.7M221.6 213h2.7M221.6 176.4h2.7M221.6 267.9h1.9M221.6 231.3h1.9M221.6 194.7h1.9" stroke="#000" stroke-width="1.3" fill="none"/>
<g font-family='"Liberation Sans", "Noto Sans CJK KR", "NanumGothic", sans-serif' font-weight="700" font-size="8.9" text-anchor="end" fill="#000" stroke="#000" stroke-width="0.25">
<text transform="translate(218.7 288.65) scale(0.88 1)">0.0</text>
<text transform="translate(218.7 252.05) scale(0.88 1)">0.5</text>
<text transform="translate(218.7 215.45) scale(0.88 1)">1.0</text>
<text transform="translate(218.7 178.85) scale(0.88 1)">1.5</text>
</g>
<text transform="translate(292.6 314.9) scale(1.0 1)" font-family='"Liberation Sans", "Noto Sans CJK KR", "NanumGothic", sans-serif' font-weight="700" font-size="9.4" text-anchor="middle" fill="#000" stroke="#000" stroke-width="0.3" letter-spacing="0.15">Pressure (kPa)</text>
<text transform="translate(202.41 233.3) rotate(-90) scale(0.97 1)" font-family='"Liberation Sans", "Noto Sans CJK KR", "NanumGothic", sans-serif' font-weight="700" font-size="9.8" text-anchor="middle" fill="#000" stroke="#000" stroke-width="0.2"><tspan font-weight="400">Δ</tspan>C/C<tspan font-size="6.66" dy="2">0</tspan></text>
<text x="188.3" y="175.2" font-family='"Liberation Serif", "Noto Serif CJK SC", serif' font-weight="700" font-size="13" fill="#000">(d)</text>
<rect x="228.05" y="182.05" width="2.3" height="2.3" fill="#333"/>
<circle cx="229.2" cy="191.6" r="1.35" fill="#a23238"/>
<text x="238.9" y="186.2" font-family='"Liberation Sans", "Noto Sans CJK KR", "NanumGothic", sans-serif' font-weight="700" font-size="6.5" text-anchor="start" fill="#000" stroke="#000" stroke-width="0.2">Bulk</text>
<text x="238.9" y="194.9" font-family='"Liberation Sans", "Noto Sans CJK KR", "NanumGothic", sans-serif' font-weight="700" font-size="6.5" text-anchor="start" fill="#000" stroke="#000" stroke-width="0.2">P7(500<tspan font-weight="400" stroke="none" font-size="0.86em" dx="0.2" dy="-0.6">㎛</tspan><tspan dx="0.3" dy="0.6">_1mm)</tspan></text>
<text x="305" y="193.6" font-family='"Liberation Sans", "Noto Sans CJK KR", "NanumGothic", sans-serif' font-weight="700" font-size="6.4" text-anchor="start" fill="#000" stroke="#000" stroke-width="0.2">S = 0.045 kPa<tspan font-size="3.97" dy="-2.2">-1</tspan></text>
<text x="308.8" y="265.7" font-family='"Liberation Sans", "Noto Sans CJK KR", "NanumGothic", sans-serif' font-weight="700" font-size="6.4" text-anchor="start" fill="#000" stroke="#000" stroke-width="0.2">S = 0.012 kPa<tspan font-size="3.97" dy="-2.2">-1</tspan></text>
<polyline points="406.16,247.6 532.55,190.7" fill="none" stroke="#a03838" stroke-width="1.35" stroke-linejoin="round" stroke-linecap="round"/>
<polyline points="406.16,282.36 532.55,276.41" fill="none" stroke="#3c3c3c" stroke-width="1.35" stroke-linejoin="round" stroke-linecap="round"/>
<g fill="#333"><rect x="405.32" y="281.26" width="2.3" height="2.3"/><rect x="411.92" y="281.28" width="2.3" height="2.3"/><rect x="418.83" y="280.62" width="2.3" height="2.3"/><rect x="425.89" y="279.97" width="2.3" height="2.3"/><rect x="432.8" y="279.97" width="2.3" height="2.3"/><rect x="440.34" y="279.29" width="2.3" height="2.3"/><rect x="448.03" y="279.25" width="2.3" height="2.3"/><rect x="455.72" y="278.89" width="2.3" height="2.3"/><rect x="463.1" y="278.21" width="2.3" height="2.3"/><rect x="470.64" y="278.19" width="2.3" height="2.3"/><rect x="478.02" y="277.84" width="2.3" height="2.3"/><rect x="485.55" y="277.16" width="2.3" height="2.3"/><rect x="493.09" y="277.13" width="2.3" height="2.3"/><rect x="500.62" y="276.77" width="2.3" height="2.3"/><rect x="508.47" y="276.4" width="2.3" height="2.3"/><rect x="516.32" y="276.04" width="2.3" height="2.3"/><rect x="523.86" y="275.68" width="2.3" height="2.3"/><rect x="531.55" y="274.99" width="2.3" height="2.3"/></g>
<g fill="#a23238"><circle cx="406.47" cy="247.82" r="1.35"/><circle cx="413.07" cy="245.11" r="1.35"/><circle cx="419.98" cy="242.02" r="1.35"/><circle cx="427.04" cy="238.92" r="1.35"/><circle cx="433.95" cy="235.05" r="1.35"/><circle cx="441.49" cy="231.18" r="1.35"/><circle cx="449.18" cy="227.31" r="1.35"/><circle cx="456.87" cy="222.67" r="1.35"/><circle cx="464.25" cy="218.41" r="1.35"/><circle cx="471.79" cy="214.54" r="1.35"/><circle cx="479.17" cy="211.06" r="1.35"/><circle cx="486.7" cy="207.96" r="1.35"/><circle cx="494.24" cy="205.64" r="1.35"/><circle cx="501.77" cy="202.54" r="1.35"/><circle cx="509.62" cy="200.22" r="1.35"/><circle cx="517.47" cy="197.9" r="1.35"/><circle cx="525.01" cy="195.97" r="1.35"/><circle cx="532.7" cy="194.03" r="1.35"/></g>
<rect x="401.4" y="176.1" width="142" height="114.5" fill="none" stroke="#000" stroke-width="1.5"/>
<path d="M409.3 290.6v-2.7M440.7 290.6v-2.7M472.1 290.6v-2.7M503.5 290.6v-2.7M534.9 290.6v-2.7M425 290.6v-1.9M456.4 290.6v-1.9M487.8 290.6v-1.9M519.2 290.6v-1.9" stroke="#000" stroke-width="1.3" fill="none"/>
<g font-family='"Liberation Sans", "Noto Sans CJK KR", "NanumGothic", sans-serif' font-weight="700" font-size="8.8" text-anchor="middle" fill="#000" stroke="#000" stroke-width="0.25">
<text transform="translate(409.4 299.8) scale(0.9 1)">20</text>
<text transform="translate(440.8 299.8) scale(0.9 1)">40</text>
<text transform="translate(472.2 299.8) scale(0.9 1)">60</text>
<text transform="translate(503.6 299.8) scale(0.9 1)">80</text>
<text transform="translate(535 299.8) scale(0.9 1)">100</text>
</g>
<path d="M401.4 290.6h2.7M401.4 274.25h2.7M401.4 257.9h2.7M401.4 241.55h2.7M401.4 225.2h2.7M401.4 208.85h2.7M401.4 192.5h2.7M401.4 176.15h2.7M401.4 282.43h1.9M401.4 266.08h1.9M401.4 249.73h1.9M401.4 233.38h1.9M401.4 217.03h1.9M401.4 200.68h1.9M401.4 184.32h1.9" stroke="#000" stroke-width="1.3" fill="none"/>
<g font-family='"Liberation Sans", "Noto Sans CJK KR", "NanumGothic", sans-serif' font-weight="700" font-size="8.9" text-anchor="end" fill="#000" stroke="#000" stroke-width="0.25">
<text transform="translate(397.8 293.05) scale(0.88 1)">0.0</text>
<text transform="translate(397.8 276.7) scale(0.88 1)">0.5</text>
<text transform="translate(397.8 260.35) scale(0.88 1)">1.0</text>
<text transform="translate(397.8 244) scale(0.88 1)">1.5</text>
<text transform="translate(397.8 227.65) scale(0.88 1)">2.0</text>
<text transform="translate(397.8 211.3) scale(0.88 1)">2.5</text>
<text transform="translate(397.8 194.95) scale(0.88 1)">3.0</text>
<text transform="translate(397.8 178.6) scale(0.88 1)">3.5</text>
</g>
<text transform="translate(472.2 314.9) scale(1.0 1)" font-family='"Liberation Sans", "Noto Sans CJK KR", "NanumGothic", sans-serif' font-weight="700" font-size="9.4" text-anchor="middle" fill="#000" stroke="#000" stroke-width="0.3" letter-spacing="0.15">Pressure (kPa)</text>
<text transform="translate(381.41 233.3) rotate(-90) scale(0.97 1)" font-family='"Liberation Sans", "Noto Sans CJK KR", "NanumGothic", sans-serif' font-weight="700" font-size="9.8" text-anchor="middle" fill="#000" stroke="#000" stroke-width="0.2"><tspan font-weight="400">Δ</tspan>C/C<tspan font-size="6.66" dy="2">0</tspan></text>
<text x="368.4" y="175.2" font-family='"Liberation Serif", "Noto Serif CJK SC", serif' font-weight="700" font-size="13" fill="#000">(e)</text>
<rect x="407.85" y="182.05" width="2.3" height="2.3" fill="#333"/>
<circle cx="409" cy="191.6" r="1.35" fill="#a23238"/>
<text x="418.7" y="186.2" font-family='"Liberation Sans", "Noto Sans CJK KR", "NanumGothic", sans-serif' font-weight="700" font-size="6.5" text-anchor="start" fill="#000" stroke="#000" stroke-width="0.2">Bulk</text>
<text x="418.7" y="194.9" font-family='"Liberation Sans", "Noto Sans CJK KR", "NanumGothic", sans-serif' font-weight="700" font-size="6.5" text-anchor="start" fill="#000" stroke="#000" stroke-width="0.2">P7(500<tspan font-weight="400" stroke="none" font-size="0.86em" dx="0.2" dy="-0.6">㎛</tspan><tspan dx="0.3" dy="0.6">_1mm)</tspan></text>
<text x="472.8" y="191.7" font-family='"Liberation Sans", "Noto Sans CJK KR", "NanumGothic", sans-serif' font-weight="700" font-size="6.4" text-anchor="start" fill="#000" stroke="#000" stroke-width="0.2">S = 0.022 kPa<tspan font-size="3.97" dy="-2.2">-1</tspan></text>
<text x="472.8" y="274.6" font-family='"Liberation Sans", "Noto Sans CJK KR", "NanumGothic", sans-serif' font-weight="700" font-size="6.4" text-anchor="start" fill="#000" stroke="#000" stroke-width="0.2">S = 0.002 kPa<tspan font-size="3.97" dy="-2.2">-1</tspan></text>
</svg>
</body>
</html>
